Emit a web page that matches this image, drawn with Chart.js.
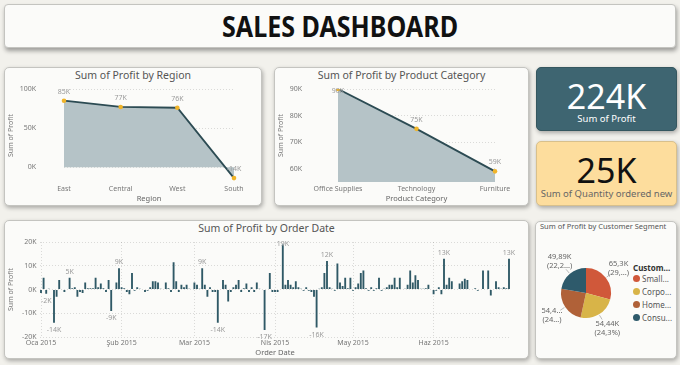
<!DOCTYPE html>
<html>
<head>
<meta charset="utf-8">
<script src="https://cdn.jsdelivr.net/npm/chart.js@4.4.1/dist/chart.umd.min.js"></script>
<style>
  body { margin: 0; width: 680px; height: 365px; background: #f2f1ec; font-family: "Noto Sans", sans-serif; overflow: hidden; position: relative; }
  .panel { position: absolute; background: #fbfbf9; border: 1px solid #c4c4c0; border-radius: 5px; box-shadow: 1px 2px 4px rgba(0, 0, 0, 0.3); box-sizing: border-box; }
  .txt { position: absolute; line-height: 1; white-space: nowrap; }
  .ttl { font-size: 10.5px; color: #555; text-align: center; }
  canvas { position: absolute; }
  .dot { position: absolute; width: 7px; height: 7px; border-radius: 50%; }
</style>
</head>
<body>
  <div class="panel" style="left:4px;top:4px;width:672px;height:44px;border-radius:4px;box-shadow:1px 3px 4px rgba(0,0,0,0.35);"></div>
  <div class="txt" style="left:4px;width:672px;top:11.3px;text-align:center;font-weight:bold;font-size:29px;color:#111;transform:scaleX(0.865);">SALES DASHBOARD</div>

  <div class="panel" style="left:4px;top:67px;width:258px;height:139px;"></div>
  <div class="txt ttl" style="left:4px;width:258px;top:69.7px;">Sum of Profit by Region</div>
  <canvas id="region-chart" width="258" height="139" style="left:4px;top:67px;"></canvas>

  <div class="panel" style="left:274px;top:67px;width:255px;height:139px;"></div>
  <div class="txt ttl" style="left:274px;width:255px;top:69.7px;">Sum of Profit by Product Category</div>
  <canvas id="category-chart" width="255" height="139" style="left:274px;top:67px;"></canvas>

  <div class="panel" style="left:536px;top:67px;width:141px;height:64px;background:#3e6571;border-color:#35575f;"></div>
  <div class="txt" style="left:536px;width:141px;top:79px;text-align:center;font-size:34px;color:#fff;">224K</div>
  <div class="txt" style="left:536px;width:141px;top:114px;text-align:center;font-size:9.5px;color:#fff;">Sum of Profit</div>

  <div class="panel" style="left:536px;top:141px;width:141px;height:65px;background:#fddd9d;border-color:#d8c08c;"></div>
  <div class="txt" style="left:536px;width:141px;top:153px;text-align:center;font-size:34px;color:#111;">25K</div>
  <div class="txt" style="left:536px;width:141px;top:189px;text-align:center;font-size:9.5px;color:#666;">Sum of Quantity ordered new</div>

  <div class="panel" style="left:4px;top:220px;width:525px;height:139px;"></div>
  <div class="txt ttl" style="left:4px;width:525px;top:223px;">Sum of Profit by Order Date</div>
  <canvas id="order-chart" width="525" height="139" style="left:4px;top:220px;"></canvas>

  <div class="panel" style="left:535px;top:221px;width:142px;height:138px;"></div>
  <div class="txt" style="left:540px;top:223px;font-size:7.5px;color:#555;">Sum of Profit by Customer Segment</div>
  <canvas id="segment-chart" width="92" height="116" style="left:540px;top:235px;"></canvas>
  <div id="segment-legend"></div>

<script>
  // values in thousands
  const regions = ["East", "Central", "West", "South"];
  const regionProfit = [85, 77, 76, -14];
  const regionTicks = [0, 50, 100];

  const categories = ["Office Supplies", "Technology", "Furniture"];
  const categoryProfit = [90, 75, 59];
  const categoryTicks = [60, 70, 80, 90];

  const segments = ["Small Business", "Corporate", "Home Office", "Consumer"];
  const segmentProfit = [65.3, 54.44, 54.4, 49.89];
  const segmentValueText = ["65,3K", "54,44K", "54,4...", "49,89K"];
  const segmentShareText = ["(29,...)", "(24,3%)", "(24...)", "(22,2...)"];
  const segmentColors = ["#d0583a", "#d8b448", "#b06138", "#2e5a6b"];

  // daily profit, 1 Jan 2015 .. 30 Jun 2015 (null = no orders)
  const janProfit = [-1.5, 5, -1.8, 0.3, null, -14, -3, 4, null, -1,
    null, 5, 0.5, 1, -3, -1, -1.5, 3, 0.5, 0.5,
    0.5, 5, 1, 2.5, 0.5, -1, 4, -9, null, 3, 9];
  const febProfit = [1, 0.5, -1, -2, 7, -0.5, 1, 0.3, null, -1,
    -0.5, 1, 3.5, 3.5, 3, 0.3, null, 3, 0.5, -1,
    11.5, 3.5, -1, 2, 1, 2, 0.3, null];
  const marProfit = [3, 2, 0.3, 9, 2, -3, 1, -1, -1, -14,
    0.2, 4, 2, -5, -1, 1, 2, 4, -1, 0.5,
    2.5, -1, 1, -1, 3, 0.3, null, -17, null, 7, -1];
  const aprProfit = [-1, -1, null, 19, 2, 4, 2, 1, 3.5, 1,
    0.3, -0.5, 1, -0.5, -1, -3, -16, 0.3, 1, 7,
    12, 1, 0.3, -0.5, 11, 3, 1.5, 5, 0.5, 5];
  const mayProfit = [-0.5, 1, 2.5, 7, 8, 0.5, -0.5, 1, -0.5, 0.5,
    5, -0.5, 0.3, 1, 2, 2, 5, 1, 5, null,
    0.3, 2, 8, 3, 6, 4, 0.3, 0.3, 0.5, 2, null];
  const junProfit = [-2, -0.5, 1, -2, 13, 2, 5, 3.5, 0.2, null,
    2.5, 3.5, 4.5, 4, 0.2, 0.2, 0.5, -0.5, 0.2, 8,
    0.2, 8, -2.5, 0.2, 3.5, 1, 0.3, 1, 0.5, 13];
  const dailyProfit = [...janProfit, ...febProfit, ...marProfit, ...aprProfit, ...mayProfit, ...junProfit];

  const monthLabels = ["Oca 2015", "Şub 2015", "Mar 2015", "Nis 2015", "May 2015", "Haz 2015"];
  const monthStarts = [0, 31, 59, 90, 120, 151];
  const orderTicks = [-20, -10, 0, 10, 20];
  const labeledDays = [2, 5, 11, 27, 30, 62, 68, 86, 93, 106, 110, 155, 180];

  const dayLabels = dailyProfit.map((_, i) => {
    const d = new Date(Date.UTC(2015, 0, 1 + i));
    return d.toISOString().slice(0, 10);
  });

  Chart.defaults.font.family = "'Noto Sans', sans-serif";
  Chart.defaults.font.size = 7;
  Chart.defaults.color = "#777";
  Chart.defaults.animation = false;
  Chart.defaults.plugins.legend.display = false;
  Chart.defaults.plugins.tooltip.enabled = false;

  const GRID = "rgba(0, 0, 0, 0.13)";

  const valueLabels = {
    id: "valueLabels",
    afterDatasetsDraw(chart, args, opts) {
      const { ctx, chartArea } = chart;
      const meta = chart.getDatasetMeta(0);
      const values = chart.data.datasets[0].data;
      ctx.save();
      ctx.font = "7px 'Noto Sans', sans-serif";
      ctx.fillStyle = "#9a9a9a";
      ctx.textAlign = "center";
      ctx.textBaseline = "middle";
      meta.data.forEach((el, i) => {
        const v = values[i];
        if (v === null || (opts.only && !opts.only.includes(i))) return;
        let y = v >= 0 || !opts.bar ? el.y - opts.above : el.y + opts.below;
        y = Math.max(y, chartArea.top + 2);
        ctx.fillText(`${Math.round(v)}K`, el.x, y);
      });
      ctx.restore();
    },
  };

  const sliceLabels = {
    id: "sliceLabels",
    afterDatasetsDraw(chart) {
      const { ctx } = chart;
      const meta = chart.getDatasetMeta(0);
      ctx.save();
      ctx.font = "7.5px 'Noto Sans', sans-serif";
      ctx.fillStyle = "#666";
      ctx.strokeStyle = "#aaa";
      ctx.lineWidth = 0.8;
      ctx.textAlign = "center";
      ctx.textBaseline = "middle";
      meta.data.forEach((arc, i) => {
        const mid = (arc.startAngle + arc.endAngle) / 2;
        const r = arc.outerRadius;
        const cos = Math.cos(mid);
        const sin = Math.sin(mid);
        ctx.beginPath();
        ctx.moveTo(arc.x + cos * (r + 1), arc.y + sin * (r + 1));
        ctx.lineTo(arc.x + cos * (r + 6), arc.y + sin * (r + 6));
        ctx.stroke();
        const lx = arc.x + cos * (r + 16);
        const ly = arc.y + sin * (r + 16);
        ctx.fillText(segmentValueText[i], lx, ly - 4.5);
        ctx.fillText(segmentShareText[i], lx, ly + 4.5);
      });
      ctx.restore();
    },
  };

  // pin axis sizes so the plot areas line up with the original layout;
  // tick padding would otherwise leak into the layout's edge padding
  function fixedWidth(width) {
    return (scale) => {
      scale.width = width;
      scale.paddingTop = 0;
      scale.paddingBottom = 0;
    };
  }

  function fixedHeight(height) {
    return (scale) => {
      scale.height = height;
      scale.paddingLeft = 0;
      scale.paddingRight = 0;
    };
  }

  function useTicks(values) {
    return (scale) => { scale.ticks = values.map((value) => ({ value })); };
  }

  function areaChart(id, labels, values, opts) {
    return new Chart(document.getElementById(id), {
      type: "line",
      data: {
        labels,
        datasets: [{
          data: values,
          borderColor: "#2c4b53",
          borderWidth: 1.8,
          backgroundColor: "#b5c3c7",
          fill: opts.fill,
          pointRadius: 2.3,
          pointBorderWidth: 0,
          pointBackgroundColor: "#f0b429",
          tension: 0,
        }],
      },
      options: {
        responsive: false,
        events: [],
        layout: { padding: { top: 22, right: opts.right, left: 0, bottom: 0 } },
        plugins: { valueLabels: { above: 9 } },
        scales: {
          x: {
            offset: false,
            grid: { display: false, drawTicks: false },
            border: { display: false },
            ticks: { padding: 3, maxRotation: 0, autoSkip: false },
            title: { display: true, text: opts.xTitle, font: { size: 7.5 }, color: "#666", padding: { top: 0, bottom: 3 } },
            afterFit: fixedHeight(24),
          },
          y: {
            min: opts.min,
            max: opts.max,
            afterBuildTicks: useTicks(opts.ticks),
            grid: { color: GRID, drawTicks: false },
            border: { display: false, dash: [1, 2] },
            ticks: { padding: opts.tickPad, callback: (v) => `${v}K` },
            title: { display: true, text: "Sum of Profit", font: { size: 7 }, color: "#777", padding: { top: 3, bottom: 0 } },
            afterFit: fixedWidth(opts.yWidth),
          },
        },
      },
      plugins: [valueLabels],
    });
  }

  areaChart("region-chart", regions, regionProfit, {
    fill: "origin", min: -19, max: 100, ticks: regionTicks,
    yWidth: 60, tickPad: 28, right: 28, xTitle: "Region",
  });

  areaChart("category-chart", categories, categoryProfit, {
    fill: "start", min: 55, max: 90, ticks: categoryTicks,
    yWidth: 64, tickPad: 36, right: 34, xTitle: "Product Category",
  });

  new Chart(document.getElementById("order-chart"), {
    type: "bar",
    data: {
      labels: dayLabels,
      datasets: [{
        data: dailyProfit,
        backgroundColor: "#2f5966",
        barPercentage: 0.72,
        categoryPercentage: 1,
      }],
    },
    options: {
      responsive: false,
      events: [],
      layout: { padding: { top: 22, right: 18.7, left: 0, bottom: 0 } },
      plugins: { valueLabels: { bar: true, above: 6, below: 7, only: labeledDays } },
      scales: {
        x: {
          afterBuildTicks: useTicks(monthStarts),
          grid: { color: GRID, drawTicks: false, offset: false },
          border: { display: false, dash: [1, 2] },
          ticks: { padding: 2, maxRotation: 0, autoSkip: false, callback: (v, i) => monthLabels[i] },
          title: { display: true, text: "Order Date", font: { size: 7.5 }, color: "#666", padding: { top: 0, bottom: 2 } },
          afterFit: fixedHeight(22),
        },
        y: {
          min: -20,
          max: 20,
          afterBuildTicks: useTicks(orderTicks),
          grid: { color: GRID, drawTicks: false },
          border: { display: false, dash: [1, 2] },
          ticks: { padding: 3, callback: (v) => `${v}K` },
          title: { display: true, text: "Sum of Profit", font: { size: 7 }, color: "#777", padding: { top: 3, bottom: 0 } },
          afterFit: fixedWidth(35.7),
        },
      },
    },
    plugins: [valueLabels],
  });

  new Chart(document.getElementById("segment-chart"), {
    type: "pie",
    data: {
      labels: segments,
      datasets: [{ data: segmentProfit, backgroundColor: segmentColors, borderWidth: 0 }],
    },
    options: {
      responsive: false,
      events: [],
      radius: 25,
      layout: { padding: 0 },
    },
    plugins: [sliceLabels],
  });

  // legend, names cut short like the original visual
  const legend = document.getElementById("segment-legend");
  let html = `<div class="txt" style="left:633px;top:263.8px;font-size:8px;font-weight:bold;color:#333;">Custom...</div>`;
  segments.forEach((name, i) => {
    const top = 274.8 + i * 13;
    html += `<div class="dot" style="left:633px;top:${top + 0.5}px;background:${segmentColors[i]};"></div>`;
    html += `<div class="txt" style="left:642px;top:${top}px;font-size:8px;color:#555;">${name.slice(0, 5).trim()}...</div>`;
  });
  legend.innerHTML = html;
</script>
</body>
</html>
